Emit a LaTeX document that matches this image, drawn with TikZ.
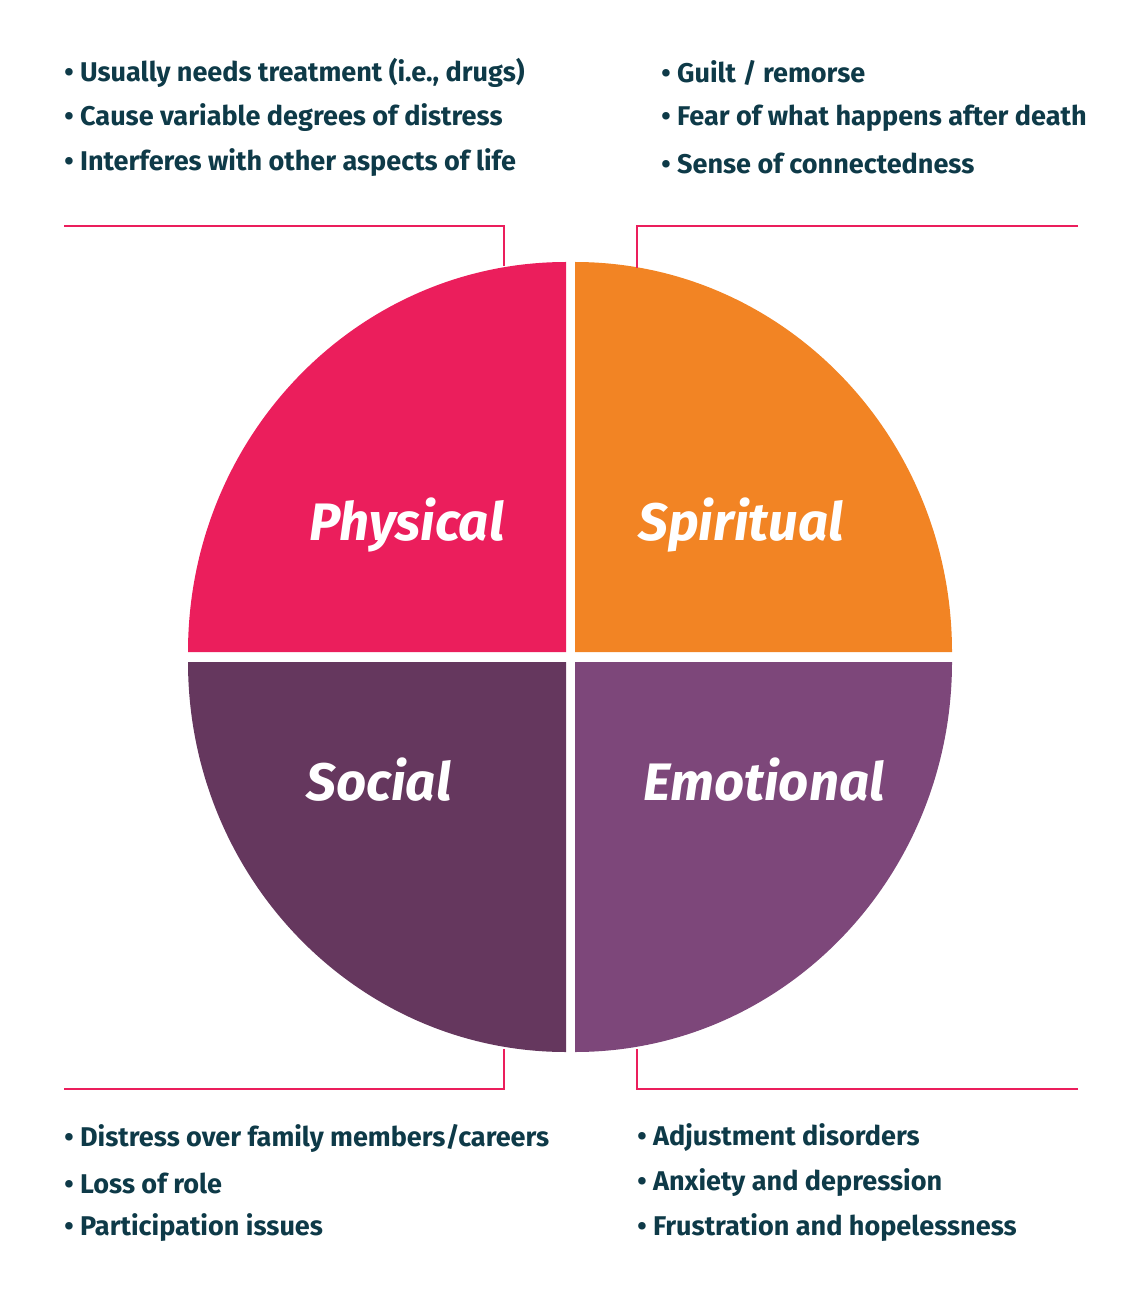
\documentclass[tikz,border=0pt]{standalone}
\usepackage{fontspec}
\setmainfont{Fira Sans}
\usetikzlibrary{positioning}
\definecolor{phys}{HTML}{EB1E5C}
\definecolor{spir}{HTML}{F28424}
\definecolor{soci}{HTML}{65375E}
\definecolor{emot}{HTML}{7D477A}
\definecolor{ink}{HTML}{0E3A48}
\begin{document}
\begin{tikzpicture}[x=0.02cm,y=-0.02cm,
  item/.style={anchor=west,text=ink,font=\fontsize{15.4}{19}\selectfont\bfseries,inner sep=0pt},
  label/.style={text=white,font=\fontsize{30}{34}\selectfont\bfseries\itshape},
  leader/.style={phys,line width=0.6pt}]
\useasboundingbox (0,0) rectangle (1140,1310);
% quarters
\fill[phys] (566,652) -- (188,652) arc[start angle=180,end angle=270,x radius=378,y radius=390] -- cycle;
\fill[spir] (575,652) -- (575,262) arc[start angle=270,end angle=360,x radius=377,y radius=390] -- cycle;
\fill[soci] (566,662) -- (566,1052) arc[start angle=90,end angle=180,x radius=378,y radius=390] -- cycle;
\fill[emot] (575,662) -- (952,662) arc[start angle=0,end angle=90,x radius=377,y radius=390] -- cycle;
\node[label] (physical) at (407,525) {Physical};
\node[label] (spiritual) at (741,525) {Spiritual};
\node[label] (social) at (379,780) {Social};
\node[label] (emotional) at (764,780) {Emotional};
% leaders
\draw[leader] (64,226) -- (504,226) -- (504,266);
\draw[leader] (1078,226) -- (637,226) -- (637,268);
\draw[leader] (64,1089) -- (504,1089) -- (504,1049);
\draw[leader] (1078,1089) -- (637,1089) -- (637,1049);
% notes
\node[item] (tl1) at (64,73) {• Usually needs treatment (i.e., drugs)};
\node[item] (tl2) at (64,118) {• Cause variable degrees of distress};
\node[item] (tl3) at (64,163) {• Interferes with other aspects of life};
\node[item] (tr1) at (661,73) {• Guilt / remorse};
\node[item] (tr2) at (661,118) {• Fear of what happens after death};
\node[item] (tr3) at (661,163) {• Sense of connectedness};
\node[item] (bl1) at (64,1138) {• Distress over family members/careers};
\node[item] (bl2) at (64,1183) {• Loss of role};
\node[item] (bl3) at (64,1228) {• Participation issues};
\node[item] (br1) at (637,1138) {• Adjustment disorders};
\node[item] (br2) at (637,1183) {•  Anxiety and depression};
\node[item] (br3) at (637,1228) {• Frustration and hopelessness};
\end{tikzpicture}
\end{document}
